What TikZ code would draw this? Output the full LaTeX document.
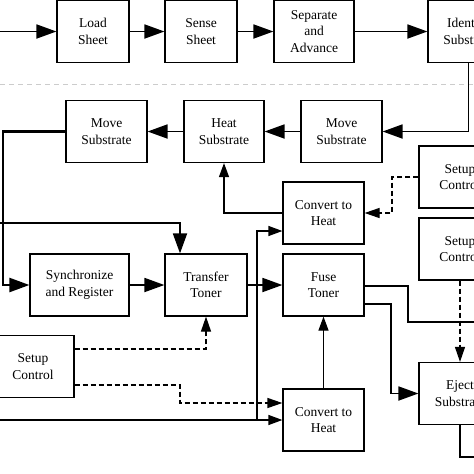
\documentclass[tikz,border=0pt]{standalone}
\usepackage{fontspec}
\setmainfont{Liberation Serif}
\usetikzlibrary{arrows.meta}
\begin{document}
\begin{tikzpicture}[x=1pt,y=-1pt,
	box/.style={draw,line width=1.2pt,align=center,inner sep=0pt,minimum height=62pt,minimum width=81pt,font=\fontsize{13.5}{16.5}\selectfont},
	wire/.style={line width=1.8pt},
	flow/.style={wire,-{Triangle[length=20pt,width=14pt]}},
	feed/.style={line width=1.2pt,-{Triangle[length=14pt,width=10pt]}},
	ctrl/.style={line width=1.2pt,dash pattern=on 5pt off 3pt,-{Triangle[length=15pt,width=10pt]}}]
	\useasboundingbox (0,0) rectangle (474,474);
	\clip (0,0) rectangle (474,474);
	\node[box,minimum width=72pt] (load) at (93,31.5) {Load\\Sheet};
	\node[box,minimum width=72pt] (sense) at (201,31.5) {Sense\\Sheet};
	\node[box,minimum width=80pt] (sep) at (314,31.5) {Separate\\and\\Advance};
	\node[box] (ident) at (468.5,31.5) {Identify\\Substrate};
	\draw[gray!40,line width=1pt,dash pattern=on 5pt off 4pt] (0,84) -- (474,84);
	\node[box] (moveL) at (106.5,131.5) {Move\\Substrate};
	\node[box,minimum width=80pt] (heat) at (224,131.5) {Heat\\Substrate};
	\node[box] (moveR) at (341.5,131.5) {Move\\Substrate};
	\node[box,minimum width=82pt] (setupA) at (460,177) {Setup\\Control};
	\node[box] (convA) at (323.5,213) {Convert to\\Heat};
	\node[box,minimum width=82pt] (setupB) at (460,249) {Setup\\Control};
	\node[box,minimum width=99pt] (sync) at (79.5,285) {Synchronize\\and Register};
	\node[box,minimum width=82pt] (transfer) at (206,285) {Transfer\\Toner};
	\node[box] (fuse) at (323.5,285) {Fuse\\Toner};
	\node[box,minimum width=82pt] (setupL) at (33,366.5) {Setup\\Control};
	\node[box,minimum width=82pt] (eject) at (460,393.5) {Eject\\Substrate};
	\node[box] (convB) at (323.5,420) {Convert to\\Heat};
	\coordinate (inA) at (0,31.5);
	\coordinate (lft) at (3,200);
	\coordinate (inT) at (0,223);
	\coordinate (inH) at (0,420);
	\coordinate (br) at (257,420);
	\coordinate (kL) at (180,394);
	\coordinate (kA) at (392,195);
	\coordinate (kF) at (408,304);
	\coordinate (kE) at (391,350);
	\coordinate (outF) at (480,322);
	\coordinate (outE) at (480,457);
	\draw[flow] (inA) -- (load);
	\draw[flow] (load) -- (sense);
	\draw[flow] (sense) -- (sep);
	\draw[flow] (sep) -- (ident);
	\draw[flow] (ident.south) |- (moveR.east);
	\draw[flow] (moveR) -- (heat);
	\draw[flow] (heat) -- (moveL);
	\draw[flow,line width=2.4pt] (moveL.west) -| (lft) |- (sync.west);
	\draw[flow] (inT) -| ([xshift=-26pt]transfer.north);
	\draw[flow] (sync) -- (transfer);
	\draw[flow] (transfer) -- (fuse);
	\draw[feed] (convA.west) -| (heat.south);
	\draw[feed] (inH) -- (convB.west);
	\draw[feed] (br) |- ([yshift=-18pt]convA.west);
	\draw[feed] (convB) -- (fuse);
	\draw[ctrl] (setupA.west) -| (kA) |- (convA.east);
	\draw[ctrl] (setupB) -- (eject);
	\draw[ctrl] ([yshift=17.5pt]setupL.east) -| (transfer.south);
	\draw[ctrl] ([yshift=-18.5pt]setupL.east) -| (kL) |- ([yshift=17pt]convB.west);
	\draw[wire] ([yshift=-1pt]fuse.east) -| (kF) |- (outF);
	\draw[flow] ([yshift=-19pt]fuse.east) -| (kE) |- (eject.west);
	\draw[wire] (eject.south) |- (outE);
\end{tikzpicture}
\end{document}
